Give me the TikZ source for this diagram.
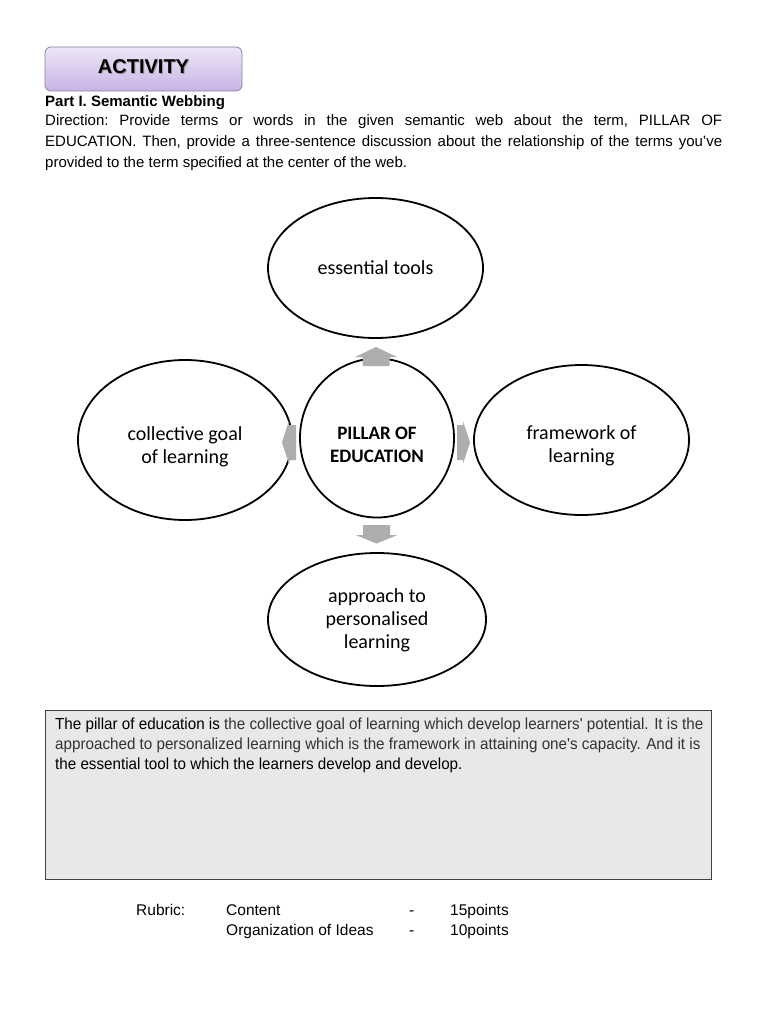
\documentclass[tikz,border=0pt]{standalone}
\usepackage{fontspec}
\setmainfont{Liberation Sans}
\newfontfamily\calibri{Carlito}
\newfontfamily\narrowsans[FakeStretch=0.95]{Liberation Sans}
\usetikzlibrary{shapes.geometric}
\definecolor{lavtop}{HTML}{EEE6F8}
\definecolor{lavbot}{HTML}{C8B4E4}
\definecolor{lavline}{HTML}{8E7FA6}
\definecolor{blockgray}{HTML}{AEAEAE}
\tikzset{
  web-e/.style={draw,ellipse,line width=1.8pt,inner sep=0pt},
  web-t/.style={inner sep=0pt,align=center,font=\calibri\fontsize{20}{23}\selectfont},
  web-b/.style={web-t,font=\calibri\bfseries\fontsize{19}{23}\selectfont},
  blockarr/.style={fill=blockgray,draw=none},
  bodytext/.style={anchor=base west,inner sep=0pt,font=\frenchspacing\fontsize{15}{21}\selectfont},
  boxtext/.style={anchor=base west,inner sep=0pt,font=\narrowsans\fontsize{16}{20}\selectfont,text=black!80},
  rubtext/.style={anchor=base west,inner sep=0pt,font=\fontsize{15.5}{20}\selectfont},
}

\begin{document}
\begin{tikzpicture}[x=1pt,y=-1pt]
  \useasboundingbox[fill=white] (0,0) rectangle (768,1024);

  % header
  \node[draw=lavline,line width=0.8pt,rounded corners=6pt,top color=lavtop,bottom color=lavbot,
        minimum width=197pt,minimum height=44pt] (btn) at (143.5,69) {};
  \node[font=\bfseries\fontsize{20}{24}\selectfont,text=black!40,inner sep=0pt] (act-s) at (144.5,67.5) {ACTIVITY};
  \node[font=\bfseries\fontsize{20}{24}\selectfont,inner sep=0pt] (act) at (143.5,66.5) {ACTIVITY};

  \node[bodytext,font=\bfseries\fontsize{15}{21}\selectfont] (part) at (45,107) {Part I. Semantic Webbing};
  \node[bodytext] (dir1) at (45,126)
    {\makebox[677pt][s]{Direction: Provide terms or words in the given semantic web about the term, PILLAR OF}};
  \node[bodytext] (dir2) at (45,147)
    {\makebox[677pt][s]{EDUCATION. Then, provide a three-sentence discussion about the relationship of the terms you've}};
  \node[bodytext] (dir3) at (45,168) {provided to the term specified at the center of the web.};

  % semantic web
  \node[web-e,minimum width=154pt,minimum height=159pt] (pillar)   at (377,438) {};
  \node[web-e,minimum width=215pt,minimum height=140pt] (tools)    at (375.5,268) {};
  \node[web-e,minimum width=214pt,minimum height=160pt] (goal)     at (185,440) {};
  \node[web-e,minimum width=215pt,minimum height=150pt] (frame)    at (581.5,440) {};
  \node[web-e,minimum width=218pt,minimum height=133pt] (approach) at (377,619.5) {};

  \node[web-b] (pillar-t)   at ([yshift=-7pt]pillar) {PILLAR OF\\EDUCATION};
  \node[web-t] (tools-t)    at (tools) {essential tools};
  \node[web-t] (goal-t)     at ([yshift=-7pt]goal) {collective goal\\of learning};
  \node[web-t] (frame-t)    at ([yshift=-6pt]frame) {framework of\\learning};
  \node[web-t] (approach-t) at ([yshift=-1pt]approach) {approach to\\personalised\\learning};

  % block arrows between the centre and the outer terms
  \fill[blockarr] (362.5,366) -- (362.5,357) -- (355,357) -- (376,347) -- (397,357) -- (389.5,357) -- (389.5,366) -- cycle;
  \fill[blockarr] (363,525) -- (390,525) -- (390,535) -- (397.5,535) -- (376.5,543.5) -- (355.5,535) -- (363,535) -- cycle;
  \fill[blockarr] (296,425) -- (289,425) -- (289,420.5) -- (282,442.5) -- (289,464) -- (289,460) -- (296,460) -- cycle;
  \fill[blockarr] (457,425) -- (463,425) -- (463,421) -- (470,442.5) -- (463,464) -- (463,460) -- (457,460) -- cycle;

  % discussion box
  \node[draw=black!75,line width=1pt,fill=black!9,minimum width=666pt,minimum height=169pt,inner sep=0pt] (disc) at (378,794.5) {};
  \node[boxtext] (l1) at (55,729)
    {\textcolor{black}{The pillar of education is} the collective goal of learning which develop learners' potential. It is the};
  \node[boxtext] (l2) at (55,749)
    {approached to personalized learning which is the framework in attaining one's capacity. And it is};
  \node[boxtext,text=black] (l3) at (55,769) {the essential tool to which the learners develop and develop.};

  % rubric
  \node[rubtext] (rub)  at (136,915) {Rubric:};
  \node[rubtext] (r1)   at (226,915) {Content};
  \node[rubtext] (r1d)  at (409,915) {-};
  \node[rubtext] (r1p)  at (450,915) {15points};
  \node[rubtext] (r2)   at (226,935) {Organization of Ideas};
  \node[rubtext] (r2d)  at (409,935) {-};
  \node[rubtext] (r2p)  at (450,935) {10points};

\end{tikzpicture}
\end{document}
